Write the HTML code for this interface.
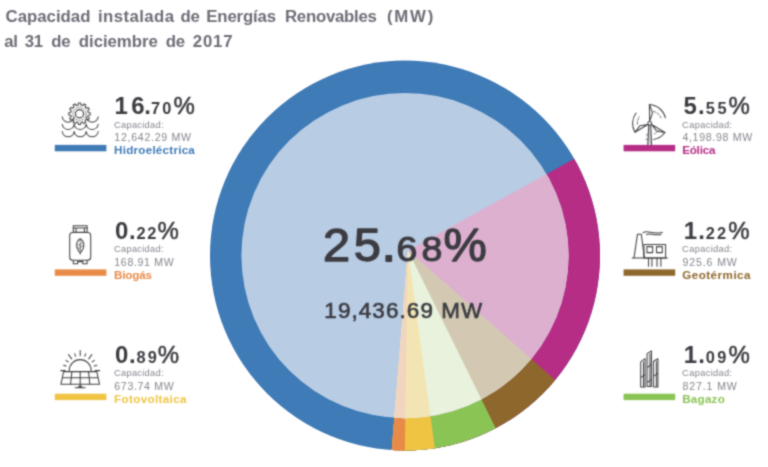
<!DOCTYPE html>
<html lang="es"><head><meta charset="utf-8"><title>Capacidad instalada de Energías Renovables</title>
<style>
html,body{margin:0;padding:0;background:#fff;}
body{width:768px;height:467px;overflow:hidden;font-family:"Liberation Sans",sans-serif;}
svg{display:block;font-family:"Liberation Sans",sans-serif;}
text{white-space:pre;}
.ic{fill:none;stroke:#414146;stroke-width:1.05;stroke-linecap:round;stroke-linejoin:round;}
</style></head>
<body>
<svg width="768" height="467" viewBox="0 0 768 467">
<defs><filter id="soft" x="0" y="0" width="768" height="467" filterUnits="userSpaceOnUse" color-interpolation-filters="sRGB"><feConvolveMatrix order="5" kernelMatrix="0.00001 0.00062 0.00227 0.00062 0.00001 0.00062 0.03065 0.11253 0.03065 0.00062 0.00227 0.11253 0.41321 0.11253 0.00227 0.00062 0.03065 0.11253 0.03065 0.00062 0.00001 0.00062 0.00227 0.00062 0.00001" divisor="1" edgeMode="duplicate" preserveAlpha="false"/></filter><filter id="soft2" x="0" y="0" width="768" height="467" filterUnits="userSpaceOnUse" color-interpolation-filters="sRGB"><feConvolveMatrix order="5" kernelMatrix="0.00006 0.00154 0.00455 0.00154 0.00006 0.00154 0.03958 0.11670 0.03958 0.00154 0.00455 0.11670 0.34409 0.11670 0.00455 0.00154 0.03958 0.11670 0.03958 0.00154 0.00006 0.00154 0.00455 0.00154 0.00006" divisor="1" edgeMode="duplicate" preserveAlpha="false"/></filter><clipPath id="pc"><circle cx="405.0" cy="255.6" r="195.0"/></clipPath><clipPath id="pi"><ellipse cx="405.0" cy="255.6" rx="163.6" ry="162.6"/></clipPath></defs>
<rect width="768" height="467" fill="#ffffff"/>
<g filter="url(#soft)">
<g clip-path="url(#pc)">
<circle cx="405.0" cy="255.6" r="197.0" fill="#3f7bb6"/>
<polygon fill="#b62d85" points="408.00,250.50 775.7,47.5 723.3,528.0 593.8,627.2 464.5,666.7 401.5,670.4 373.8,669.1"/>
<polygon fill="#8e672c" points="408.00,250.50 723.3,528.0 593.8,627.2 464.5,666.7 401.5,670.4 373.8,669.1"/>
<polygon fill="#8ac455" points="408.00,250.50 593.8,627.2 464.5,666.7 401.5,670.4 373.8,669.1"/>
<polygon fill="#f0c443" points="408.00,250.50 464.5,666.7 401.5,670.4 373.8,669.1"/>
<polygon fill="#e88b48" points="408.00,250.50 401.5,670.4 373.8,669.1"/>
</g>
<g clip-path="url(#pi)">
<circle cx="405.0" cy="255.6" r="165.0" fill="#b8cce4"/>
<polygon fill="#ddb0d0" points="408.00,250.50 775.7,47.5 723.3,528.0 593.8,627.2 464.5,666.7 401.5,670.4 373.8,669.1"/>
<polygon fill="#d3c9b3" points="408.00,250.50 723.3,528.0 593.8,627.2 464.5,666.7 401.5,670.4 373.8,669.1"/>
<polygon fill="#e8f2dd" points="408.00,250.50 593.8,627.2 464.5,666.7 401.5,670.4 373.8,669.1"/>
<polygon fill="#f3e5b3" points="408.00,250.50 464.5,666.7 401.5,670.4 373.8,669.1"/>
<polygon fill="#f2d5be" points="408.00,250.50 401.5,670.4 373.8,669.1"/>
</g>
</g>
<g filter="url(#soft2)">
<text transform="translate(0 21.70) scale(1.0 1)" font-size="16.8px" font-weight="bold" fill="#6c6d76"><tspan x="5.60" letter-spacing="-0.007px">Capacidad</tspan> <tspan x="98.00" letter-spacing="0.407px">instalada</tspan> <tspan x="180.42" letter-spacing="-0.250px">de</tspan> <tspan x="206.30" letter-spacing="-0.166px">Energías</tspan> <tspan x="284.98" letter-spacing="-0.250px">Renovables</tspan> <tspan x="387.00" letter-spacing="1.753px">(MW)</tspan></text>
<text transform="translate(0 46.50) scale(1.0 1)" font-size="16.8px" font-weight="bold" fill="#6c6d76"><tspan x="4.27" letter-spacing="-0.250px">al</tspan> <tspan x="24.78" letter-spacing="-0.250px">31</tspan> <tspan x="51.22" letter-spacing="-0.250px">de</tspan> <tspan x="78.80" letter-spacing="-0.033px">diciembre</tspan> <tspan x="165.77" letter-spacing="-0.250px">de</tspan> <tspan x="192.80" letter-spacing="0.807px">2017</tspan></text>

<text transform="translate(0 261.40) scale(1.06 1)" fill="#3b3b41"><tspan x="304.72" font-size="46px" font-weight="normal" letter-spacing="3.376px" stroke="#3b3b41" stroke-width="1.3" stroke-linejoin="round">25</tspan><tspan x="360.40" font-size="46px" font-weight="normal" stroke="#3b3b41" stroke-width="2.0" stroke-linejoin="round">.</tspan><tspan x="373.96" font-size="35.4px" font-weight="normal" letter-spacing="4.031px" stroke="#3b3b41" stroke-width="1.1" stroke-linejoin="round">68</tspan><tspan x="418.52" font-size="46px" font-weight="normal" stroke="#3b3b41" stroke-width="1.3" stroke-linejoin="round">%</tspan></text>
<text transform="translate(324.30 318.00) scale(1.02 1)" font-size="22px" font-weight="normal" fill="#3b3b41" letter-spacing="1.075px" stroke="#3b3b41" stroke-width="0.65" stroke-linejoin="round">19,436.69 MW</text>

<rect x="54.8" y="144.9" width="51.6" height="6.4" fill="#3f7bb6"/>
<text transform="translate(0 114.40) scale(1.0 1)" fill="#3b3b41"><tspan x="114.38" font-size="24.0px" font-weight="bold">1</tspan><tspan x="131.33" font-size="24.0px" font-weight="bold">6</tspan><tspan x="144.26" font-size="24.0px" font-weight="bold">.</tspan><tspan x="150.94" font-size="16.4px" font-weight="bold">7</tspan><tspan x="162.24" font-size="16.4px" font-weight="bold">0</tspan><tspan x="173.53" font-size="24.0px" font-weight="normal" stroke="#3b3b41" stroke-width="0.5" stroke-linejoin="round">%</tspan></text>
<text transform="translate(114.00 127.60) scale(1.04 1)" font-size="9.0px" font-weight="normal" fill="#85868e" letter-spacing="0.240px" >Capacidad:</text>
<text transform="translate(114.30 141.00) scale(1.04 1)" font-size="10.2px" font-weight="normal" fill="#85868e" letter-spacing="0.692px" >12,642.29 MW</text>
<text transform="translate(114.10 154.40) scale(1.02 1)" font-size="11.4px" font-weight="bold" fill="#3f7bb6" letter-spacing="0.245px" >Hidroeléctrica</text>
<rect x="54.8" y="269.4" width="51.6" height="6.4" fill="#e88b48"/>
<text transform="translate(0 238.90) scale(1.0 1)" fill="#3b3b41"><tspan x="114.98" font-size="24.0px" font-weight="bold">0</tspan><tspan x="129.11" font-size="24.0px" font-weight="bold">.</tspan><tspan x="136.39" font-size="16.4px" font-weight="bold">2</tspan><tspan x="147.29" font-size="16.4px" font-weight="bold">2</tspan><tspan x="157.53" font-size="24.0px" font-weight="normal" stroke="#3b3b41" stroke-width="0.5" stroke-linejoin="round">%</tspan></text>
<text transform="translate(114.00 252.10) scale(1.04 1)" font-size="9.0px" font-weight="normal" fill="#85868e" letter-spacing="0.240px" >Capacidad:</text>
<text transform="translate(114.30 265.50) scale(1.04 1)" font-size="10.2px" font-weight="normal" fill="#85868e" letter-spacing="0.632px" >168.91 MW</text>
<text transform="translate(114.10 278.90) scale(1.02 1)" font-size="11.4px" font-weight="bold" fill="#e88b48" letter-spacing="-0.170px" >Biogás</text>
<rect x="54.8" y="393.7" width="51.6" height="6.4" fill="#f0c443"/>
<text transform="translate(0 363.20) scale(1.0 1)" fill="#3b3b41"><tspan x="114.98" font-size="24.0px" font-weight="bold">0</tspan><tspan x="129.11" font-size="24.0px" font-weight="bold">.</tspan><tspan x="136.59" font-size="16.4px" font-weight="bold">8</tspan><tspan x="147.69" font-size="16.4px" font-weight="bold">9</tspan><tspan x="157.83" font-size="24.0px" font-weight="normal" stroke="#3b3b41" stroke-width="0.5" stroke-linejoin="round">%</tspan></text>
<text transform="translate(114.00 376.40) scale(1.04 1)" font-size="9.0px" font-weight="normal" fill="#85868e" letter-spacing="0.240px" >Capacidad:</text>
<text transform="translate(114.30 389.80) scale(1.04 1)" font-size="10.2px" font-weight="normal" fill="#85868e" letter-spacing="0.632px" >673.74 MW</text>
<text transform="translate(114.10 403.20) scale(1.02 1)" font-size="11.4px" font-weight="bold" fill="#f0c443" letter-spacing="0.349px" >Fotovoltaica</text>
<rect x="623.6" y="144.9" width="51.6" height="6.4" fill="#b62d85"/>
<text transform="translate(0 114.40) scale(1.0 1)" fill="#3b3b41"><tspan x="683.48" font-size="24.0px" font-weight="bold">5</tspan><tspan x="697.96" font-size="24.0px" font-weight="bold">.</tspan><tspan x="705.84" font-size="16.4px" font-weight="bold">5</tspan><tspan x="717.49" font-size="16.4px" font-weight="bold">5</tspan><tspan x="728.48" font-size="24.0px" font-weight="normal" stroke="#3b3b41" stroke-width="0.5" stroke-linejoin="round">%</tspan></text>
<text transform="translate(682.10 127.60) scale(1.04 1)" font-size="9.0px" font-weight="normal" fill="#85868e" letter-spacing="0.293px" >Capacidad:</text>
<text transform="translate(682.40 141.00) scale(1.04 1)" font-size="10.2px" font-weight="normal" fill="#85868e" letter-spacing="0.665px" >4,198.98 MW</text>
<text transform="translate(682.20 154.40) scale(1.02 1)" font-size="11.4px" font-weight="bold" fill="#b62d85" letter-spacing="-0.207px" >Eólica</text>
<rect x="623.6" y="269.4" width="51.6" height="6.4" fill="#8e672c"/>
<text transform="translate(0 238.90) scale(1.0 1)" fill="#3b3b41"><tspan x="683.73" font-size="24.0px" font-weight="bold">1</tspan><tspan x="698.16" font-size="24.0px" font-weight="bold">.</tspan><tspan x="705.84" font-size="16.4px" font-weight="bold">2</tspan><tspan x="716.89" font-size="16.4px" font-weight="bold">2</tspan><tspan x="728.33" font-size="24.0px" font-weight="normal" stroke="#3b3b41" stroke-width="0.5" stroke-linejoin="round">%</tspan></text>
<text transform="translate(682.10 252.10) scale(1.04 1)" font-size="9.0px" font-weight="normal" fill="#85868e" letter-spacing="0.293px" >Capacidad:</text>
<text transform="translate(682.40 265.50) scale(1.04 1)" font-size="10.2px" font-weight="normal" fill="#85868e" letter-spacing="0.846px" >925.6 MW</text>
<text transform="translate(682.20 278.90) scale(1.02 1)" font-size="11.4px" font-weight="bold" fill="#8e672c" letter-spacing="0.481px" >Geotérmica</text>
<rect x="623.6" y="393.7" width="51.6" height="6.4" fill="#8ac455"/>
<text transform="translate(0 363.20) scale(1.0 1)" fill="#3b3b41"><tspan x="683.73" font-size="24.0px" font-weight="bold">1</tspan><tspan x="698.16" font-size="24.0px" font-weight="bold">.</tspan><tspan x="705.69" font-size="16.4px" font-weight="bold">0</tspan><tspan x="717.34" font-size="16.4px" font-weight="bold">9</tspan><tspan x="728.48" font-size="24.0px" font-weight="normal" stroke="#3b3b41" stroke-width="0.5" stroke-linejoin="round">%</tspan></text>
<text transform="translate(682.10 376.40) scale(1.04 1)" font-size="9.0px" font-weight="normal" fill="#85868e" letter-spacing="0.293px" >Capacidad:</text>
<text transform="translate(682.40 389.80) scale(1.04 1)" font-size="10.2px" font-weight="normal" fill="#85868e" letter-spacing="0.846px" >827.1 MW</text>
<text transform="translate(682.20 403.20) scale(1.02 1)" font-size="11.4px" font-weight="bold" fill="#8ac455" letter-spacing="0.245px" >Bagazo</text>

<g class="ic"><path d="M78.12,105.11 L78.37,103.06 L80.63,103.06 L80.88,105.11 L82.65,105.58 L83.89,103.93 L85.85,105.06 L85.04,106.96 L86.34,108.26 L88.24,107.45 L89.37,109.41 L87.72,110.65 L88.19,112.42 L90.24,112.67 L90.24,114.93 L88.19,115.18 L87.72,116.95 L89.37,118.19 L88.24,120.15 L86.34,119.34 L85.04,120.64 L85.85,122.54 L83.89,123.67 L82.65,122.02 L80.88,122.49 L80.63,124.54 L78.37,124.54 L78.12,122.49 L76.35,122.02 L75.11,123.67 L73.15,122.54 L73.96,120.64 L72.66,119.34 L70.76,120.15 L69.63,118.19 L71.28,116.95 L70.81,115.18 L68.76,114.93 L68.76,112.67 L70.81,112.42 L71.28,110.65 L69.63,109.41 L70.76,107.45 L72.66,108.26 L73.96,106.96 L73.15,105.06 L75.11,103.93 L76.35,105.58Z"/><circle cx="79.5" cy="113.8" r="4.1" stroke-width="1.2"/><circle cx="79.5" cy="113.8" r="6.6" stroke-width="0.5"/><path d="M62.2,116.9 a6.05,6.05 0 0 0 12,0 M86.2,116.9 a6.05,6.05 0 0 0 12,0"/><path d="M62.2,124.2 a6.05,6.05 0 0 0 12,0 M74.2,124.2 a6.05,6.05 0 0 0 12,0 M86.2,124.2 a6.05,6.05 0 0 0 12,0"/><path d="M62.2,131.5 a6.05,6.05 0 0 0 12,0 M74.2,131.5 a6.05,6.05 0 0 0 12,0 M86.2,131.5 a6.05,6.05 0 0 0 12,0"/></g>
<g class="ic"><rect x="69.7" y="232.5" width="21" height="27.7" rx="3" ry="3"/><rect x="73.3" y="225.7" width="13.8" height="6.6"/><path d="M73.3,228 H87.1 M76,228 V232.3 M84.4,228 V232.3"/><path d="M73.3,260.2 V263.8 H77.6 V261.6 H82.8 V263.8 H87.1 V260.2"/><path d="M80.2,238.6 C84.6,241.6 85.4,247 80.2,253 C75,247 75.8,241.6 80.2,238.6 Z"/><path d="M80.2,240 V254.5 M80.2,244.5 L82.6,242.6 M80.2,247.5 L83.2,245.4 M80.2,246 L77.6,244 M80.2,249.2 L77.8,247.4" stroke-width="0.7"/></g>
<g class="ic"><path d="M69.2,370.6 A11,11 0 0 1 91.2,370.6"/><path d="M65.20,370.60 L60.70,370.60 M66.12,366.03 L63.56,365.19 M68.23,361.90 L66.04,360.31 M71.68,358.87 L68.56,354.58 M75.56,356.33 L74.70,353.67 M80.20,355.60 L80.20,350.40 M84.84,356.33 L85.70,353.67 M88.72,358.87 L91.84,354.58 M92.17,361.90 L94.36,360.31 M94.28,366.03 L96.84,365.19 M95.20,370.60 L99.70,370.60 "/><path d="M63.6,371.6 H96.8 L99.5,384.3 H60.9 Z M62.25,377.65000000000003 H98.15"/><path d="M71.90,371.6 L70.55,384.3 M80.20,371.6 L80.20,384.3 M88.50,371.6 L89.85,384.3 "/><path d="M80.2,384.3 V387.6 M75.2,387.8 H85.2 M77.4,387.8 L80.2,385.6 L83,387.8"/></g>
<g class="ic"><path d="M648.7,125.3 L647.8000000000001,144.8 H651.6 L650.7,125.3 Z" fill="#d4d4d8" stroke="none"/><path d="M648.7,125.3 L647.8000000000001,144.8 M650.7,125.3 L651.6,144.8"/><path d="M646.3000000000001,134.9 H648.3000000000001 M645.9000000000001,139.3 H648.1" stroke-width="0.7"/><circle cx="649.7" cy="123.3" r="1.9"/><path d="M649.67,121.10 L649.40,104.40 L652.53,112.86 Z"/><path d="M649.40,104.40 A17.6,17.6 0 0 1 665.40,117.80"/><path d="M651.58,124.44 L664.90,132.50 L656.51,130.93 Z"/><path d="M664.90,132.50 A16.8,16.8 0 0 1 653.40,139.40"/><path d="M647.82,124.45 L635.00,132.30 L640.05,125.69 Z"/><path d="M635.00,132.30 A17.2,17.2 0 0 1 636.10,113.00"/><path d="M653.59,111.32 A12.6,12.6 0 0 1 661.02,117.78" stroke-width="0.75" stroke-dasharray="2.4 1.6"/><path d="M637.33,124.16 A12.4,12.4 0 0 1 639.42,116.37" stroke-width="0.75" stroke-dasharray="2.4 1.6"/><path d="M658.51,130.69 A11.5,11.5 0 0 1 654.38,133.81" stroke-width="0.75" stroke-dasharray="2.4 1.6"/></g>
<g class="ic"><path d="M634,257.9 L637.5,234.2 H641.3 L644.4,257.9"/><rect x="643.9" y="244.4" width="21.7" height="13.5"/><rect x="646.9" y="246.6" width="5.8" height="6"/><rect x="656.5" y="246.6" width="5.8" height="6"/><path d="M632.2,257.9 H667.6"/><path d="M648.5,258 V266.2 M651.9,258 V266.2 M657,258 V266.2 M660.9,258 V266.2"/><path d="M643,232.8 C647,229.6 652,234.6 662.4,232.6 M646.5,234.4 C651,233 655,236 661,234.4"/></g>
<g class="ic"><path d="M640.7,386.9 V361.9 L645.1,358.7 V386.9 Z M643.5000000000001,361.90 V386.4 M640.7,377.6 L645.1,374.4"/><path d="M647.1,386.4 V353.6 L651.5,350.9 V386.4 Z M649.9,353.85 V385.9 M647.1,367.6 L651.5,364.4 M647.1,382.6 L651.5,379.4"/><path d="M653.5,386.9 V361.3 L657.9,358.7 V386.9 Z M656.3000000000001,361.60 V386.4 M653.5,376.40000000000003 L657.9,373.2"/></g>
</g>
</svg>
</body></html>
